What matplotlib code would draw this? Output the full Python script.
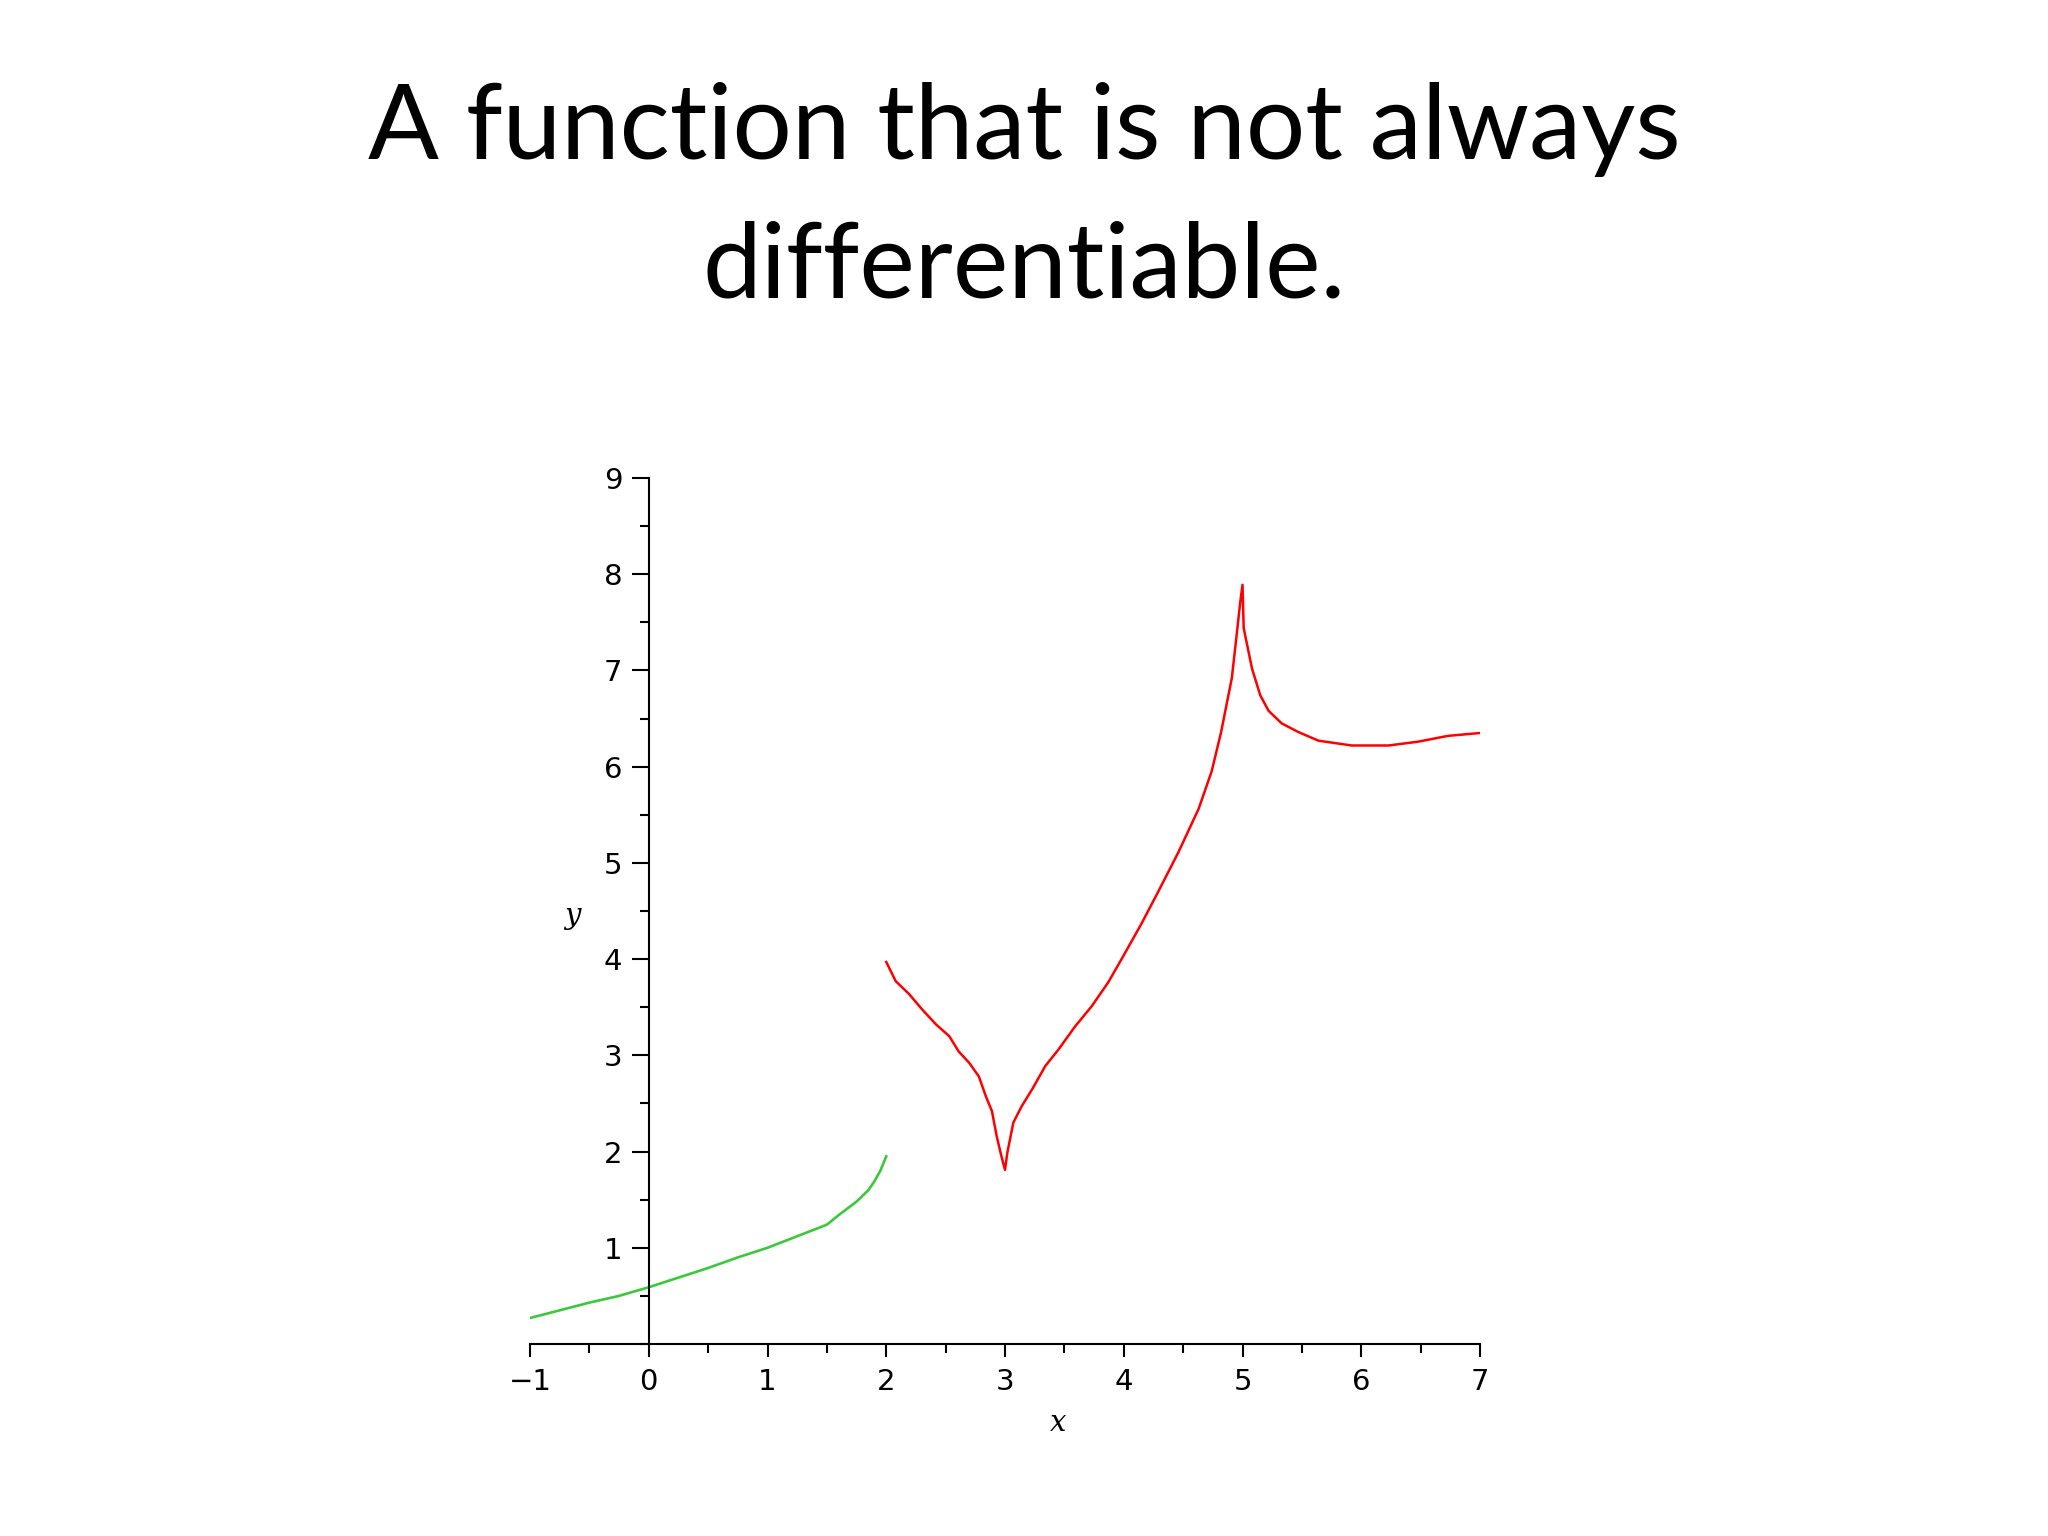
import matplotlib
matplotlib.use("Agg")
import matplotlib.pyplot as plt
from matplotlib.ticker import MultipleLocator

TITLE_LINES = ["A function that is not always", "differentiable."]

# left piece (green)
green_x = [-1, -0.75, -0.5, -0.25, 0, 0.25, 0.5, 0.75, 1, 1.25, 1.5, 1.6,
           1.75, 1.85, 1.9, 1.95, 2]
green_y = [0.27, 0.35, 0.43, 0.5, 0.59, 0.69, 0.79, 0.9, 1.0, 1.12, 1.24,
           1.34, 1.48, 1.6, 1.69, 1.8, 1.95]

# right piece (red), cusp at x=3 and x=5
red_x = [2.0, 2.08, 2.19, 2.3, 2.42, 2.53, 2.61, 2.70, 2.78, 2.84, 2.89,
         2.93, 2.97, 3.0, 3.02, 3.07, 3.14, 3.23, 3.34, 3.45, 3.59, 3.73,
         3.87, 4.0, 4.15, 4.29, 4.46, 4.63, 4.74, 4.82, 4.91, 4.95, 4.98,
         5.0, 5.01, 5.04, 5.08, 5.15, 5.22, 5.33, 5.47, 5.64, 5.92, 6.23,
         6.48, 6.73, 7.0]
red_y = [3.97, 3.77, 3.64, 3.48, 3.32, 3.2, 3.04, 2.92, 2.78, 2.57, 2.42,
         2.16, 1.95, 1.81, 1.99, 2.30, 2.47, 2.65, 2.89, 3.06, 3.30, 3.51,
         3.76, 4.04, 4.37, 4.70, 5.11, 5.56, 5.95, 6.36, 6.92, 7.36, 7.7,
         7.89, 7.44, 7.26, 7.02, 6.74, 6.58, 6.45, 6.36, 6.27, 6.22, 6.22,
         6.26, 6.32, 6.35]

x_ticks = [-1, 0, 1, 2, 3, 4, 5, 6, 7]
y_ticks = [1, 2, 3, 4, 5, 6, 7, 8, 9]

W, H = 2048, 1536
fig = plt.figure(figsize=(W / 100, H / 100), dpi=100)

title_font = dict(family="Lato", fontsize=75.5, color="black",
                  ha="center", va="baseline")
fig.text(0.5, 1 - 159 / H, TITLE_LINES[0], **title_font)
fig.text(0.5, 1 - 297 / H, TITLE_LINES[1], **title_font)

ax = fig.add_axes([530 / W, 1 - 1344 / H, 950 / W, 866 / H])
ax.plot(green_x, green_y, color="#3cc83c", linewidth=1.9)
ax.plot(red_x, red_y, color="#ff0000", linewidth=1.8)

ax.set_xlim(-1, 7)
ax.set_ylim(0, 9)

for side in ["top", "right"]:
    ax.spines[side].set_visible(False)
ax.spines["left"].set_position(("data", 0))
ax.spines["bottom"].set_position(("data", 0))
for side in ["left", "bottom"]:
    ax.spines[side].set_linewidth(1.5)

ax.set_xticks(x_ticks)
ax.set_yticks(y_ticks)
ax.xaxis.set_minor_locator(MultipleLocator(0.5))
ax.yaxis.set_minor_locator(MultipleLocator(0.5))
ax.set_xticklabels([str(t).replace("-", "\u2212") for t in x_ticks])

ax.tick_params(axis="x", which="major", direction="out", length=9.5,
               width=1.5, pad=8, labelsize=21)
ax.tick_params(axis="x", which="minor", direction="out", length=6.5,
               width=1.5)
ax.tick_params(axis="y", which="major", direction="out", length=12,
               width=1.5, pad=7, labelsize=21)
ax.tick_params(axis="y", which="minor", direction="out", length=6.5,
               width=1.5)

ax.text(3.45, -0.82, "x", fontsize=21, style="italic",
        family="DejaVu Serif", ha="center", va="center")
ax.text(-0.64, 4.45, "y", fontsize=21, style="italic",
        family="DejaVu Serif", ha="center", va="center")

fig.savefig("out.png", dpi=100, facecolor="white")
